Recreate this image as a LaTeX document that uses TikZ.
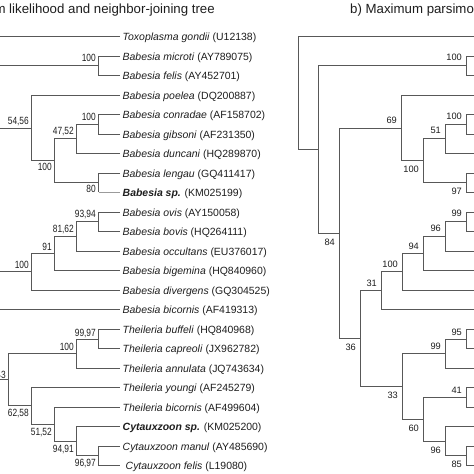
\documentclass[tikz,border=0pt]{standalone}
\usepackage{fontspec}
\setmainfont{Liberation Sans}
\newfontfamily\narrowfont[FakeStretch=0.8]{Liberation Sans}
\definecolor{linecol}{RGB}{88,88,88}
\definecolor{textcol}{RGB}{30,30,30}
\definecolor{lightline}{RGB}{155,155,155}
\begin{document}
\begin{tikzpicture}[x=1bp,y=-1bp,
  br/.style={draw=linecol,line width=1bp},
  leaflab/.style={anchor=base west,inner sep=0pt,font=\fontsize{10.5}{12}\selectfont,text=textcol,xshift=2.5bp,yshift=-3.7bp},
  bsla/.style={anchor=base east,inner sep=0pt,font=\narrowfont\fontsize{10.5}{12}\selectfont,text=textcol,xshift=-2.5bp,yshift=3.5bp},
  bslb/.style={anchor=base east,inner sep=0pt,font=\narrowfont\fontsize{10.5}{12}\selectfont,text=textcol,xshift=-2.5bp,yshift=-10.5bp},
  bsra/.style={anchor=base east,inner sep=0pt,font=\fontsize{9.3}{11}\selectfont,text=textcol,xshift=-4.5bp,yshift=4.5bp},
  bsrb/.style={anchor=base east,inner sep=0pt,font=\fontsize{9.3}{11}\selectfont,text=textcol,xshift=-4.5bp,yshift=-11.7bp},
  ttl/.style={anchor=base west,inner sep=0pt,font=\fontsize{13.3}{15}\selectfont,text=textcol}]
\useasboundingbox (0,0) rectangle (474,474);
\fill[white] (0,0) rectangle (474,474);
\clip (0,0) rectangle (474,474);

% titles
\node[ttl] (titleA) at (-67.5,14) {a) Maximum likelihood and neighbor-joining tree};
\node[ttl] (titleB) at (350,14) {b) Maximum parsimony tree};

% leaf y positions (pixel-centred)
\foreach \i/\y in {1/36.5,2/56.5,3/75.5,4/95.5,5/114.5,6/134.5,7/153.5,8/173.5,9/192.5,10/212.5,11/231.5,12/251.5,13/270.5,14/290.5,15/309.5,16/329.5,17/348.5,18/368.5,19/387.5,20/407.5,21/426.5,22/446.5,23/465.5}{
  \coordinate (l\i) at (120,\y);
  \coordinate (r\i) at (480,\y);
}

% left tree internal nodes
\coordinate (lroot) at (-12,200);
\coordinate (nMF) at (98.5,65.5);
\coordinate (nCG) at (98.5,124.5);
\coordinate (nCGD) at (76.5,138.5);
\coordinate (nLS) at (98.5,182.5);
\coordinate (nA2) at (54.5,160.5);
\coordinate (nA) at (31.5,128.5);
\coordinate (nOB) at (98.5,221.5);
\coordinate (nOBO) at (76.5,236.5);
\coordinate (nB2) at (54.5,253.5);
\coordinate (nB) at (31.5,271.5);
\coordinate (nBC) at (98.5,339.5);
\coordinate (nT) at (76.5,353.5);
\coordinate (nFM) at (98.5,455.5);
\coordinate (nCy) at (76.5,441.5);
\coordinate (nCyB) at (54.5,424.5);
\coordinate (nY) at (31.5,405.5);
\coordinate (nC) at (8.5,379.5);

\foreach \a/\b in {lroot/l1,lroot/nMF,lroot/nA,lroot/nB,lroot/l15,lroot/nC,
  nMF/l2,nMF/l3,nA/l4,nA/nA2,nA2/nCGD,nA2/nLS,nCGD/nCG,nCGD/l7,nCG/l5,nCG/l6,nLS/l8,
  nB/nB2,nB/l14,nB2/nOBO,nB2/l13,nOBO/nOB,nOBO/l12,nOB/l10,nOB/l11,
  nC/nT,nC/nY,nT/nBC,nT/l18,nBC/l16,nBC/l17,nY/l19,nY/nCyB,nCyB/l20,nCyB/nCy,
  nCy/l21,nCy/nFM,nFM/l22,nFM/l23}
  \draw[br] (\a) |- (\b);
\draw[br] (nLS) -- (nLS |- l9);
\draw[br,draw=lightline] (nLS |- l9) -- (l9);

% left bootstrap values
\node[bsla] (bMF) at (nMF) {100};
\node[bsla] (bCG) at (nCG) {100};
\node[bsla] (bCGD) at (nCGD) {47,52};
\node[bslb] (bLS) at (nLS) {80};
\node[bslb] (bA2) at (nA2) {100};
\node[bsla] (bA) at (nA) {54,56};
\node[bsla] (bOB) at (nOB) {93,94};
\node[bsla] (bOBO) at (nOBO) {81,62};
\node[bsla] (bB2) at (nB2) {91};
\node[bsla] (bB) at (nB) {100};
\node[bsla] (bBC) at (nBC) {99,97};
\node[bsla] (bT) at (nT) {100};
\node[bslb] (bFM) at (nFM) {96,97};
\node[bslb] (bCy) at (nCy) {94,91};
\node[bslb] (bCyB) at (nCyB) {51,52};
\node[bslb] (bY) at (nY) {62,58};
\node[bsla,xshift=0bp,yshift=-2bp] (bC) at (nC) {43};

% leaf labels
\node[leaflab] (t1) at (l1) {\textit{Toxoplasma gondii} (U12138)};
\node[leaflab] (t2) at (l2) {\textit{Babesia microti} (AY789075)};
\node[leaflab] (t3) at (l3) {\textit{Babesia felis} (AY452701)};
\node[leaflab] (t4) at (l4) {\textit{Babesia poelea} (DQ200887)};
\node[leaflab] (t5) at (l5) {\textit{Babesia conradae} (AF158702)};
\node[leaflab] (t6) at (l6) {\textit{Babesia gibsoni} (AF231350)};
\node[leaflab] (t7) at (l7) {\textit{Babesia duncani} (HQ289870)};
\node[leaflab] (t8) at (l8) {\textit{Babesia lengau} (GQ411417)};
\node[leaflab] (t9) at (l9) {\textbf{\textit{Babesia sp.}} (KM025199)};
\node[leaflab] (t10) at (l10) {\textit{Babesia ovis} (AY150058)};
\node[leaflab] (t11) at (l11) {\textit{Babesia bovis} (HQ264111)};
\node[leaflab] (t12) at (l12) {\textit{Babesia occultans} (EU376017)};
\node[leaflab] (t13) at (l13) {\textit{Babesia bigemina} (HQ840960)};
\node[leaflab] (t14) at (l14) {\textit{Babesia divergens} (GQ304525)};
\node[leaflab] (t15) at (l15) {\textit{Babesia bicornis} (AF419313)};
\node[leaflab] (t16) at (l16) {\textit{Theileria buffeli} (HQ840968)};
\node[leaflab] (t17) at (l17) {\textit{Theileria capreoli} (JX962782)};
\node[leaflab] (t18) at (l18) {\textit{Theileria annulata} (JQ743634)};
\node[leaflab] (t19) at (l19) {\textit{Theileria youngi} (AF245279)};
\node[leaflab] (t20) at (l20) {\textit{Theileria bicornis} (AF499604)};
\node[leaflab] (t21) at (l21) {\textbf{\textit{Cytauxzoon sp.}} (KM025200)};
\node[leaflab] (t22) at (l22) {\textit{Cytauxzoon manul} (AY485690)};
\node[leaflab,xshift=3bp] (t23) at (l23) {\textit{Cytauxzoon felis} (L19080)};

% right tree internal nodes
\coordinate (rRoot) at (298.5,93.5);
\coordinate (rM) at (318.5,149.5);
\coordinate (rMF) at (466.5,65.5);
\coordinate (rABT) at (339.5,233.5);
\coordinate (rA) at (401.5,128.5);
\coordinate (rA2) at (423.5,160.5);
\coordinate (rCGD) at (445.5,138.5);
\coordinate (rCG) at (466.5,124.5);
\coordinate (rLS) at (466.5,182.5);
\coordinate (rBT) at (360.5,338.5);
\coordinate (rB) at (381.5,290.5);
\coordinate (rB2) at (402.5,271.5);
\coordinate (rB3) at (423.5,253.5);
\coordinate (rOBO) at (445.5,236.5);
\coordinate (rOB) at (466.5,221.5);
\coordinate (rTC) at (402.5,386.5);
\coordinate (rT) at (445.5,353.5);
\coordinate (rBC) at (466.5,339.5);
\coordinate (rCyY) at (423.5,419.5);
\coordinate (rYB) at (466.5,397.5);
\coordinate (rCy) at (445.5,441.5);
\coordinate (rFM) at (466.5,455.5);

\foreach \a/\b in {rRoot/r1,rRoot/rM,rM/rMF,rM/rABT,rMF/r2,rMF/r3,rABT/rA,rABT/rBT,
  rA/r4,rA/rA2,rA2/rCGD,rA2/rLS,rCGD/rCG,rCGD/r7,rCG/r5,rCG/r6,rLS/r8,rLS/r9,
  rBT/rB,rBT/rTC,rB/rB2,rB/r15,rB2/rB3,rB2/r14,rB3/rOBO,rB3/r13,rOBO/rOB,rOBO/r12,
  rOB/r10,rOB/r11,rTC/rT,rTC/rCyY,rT/rBC,rT/r18,rBC/r16,rBC/r17,rCyY/rYB,rCyY/rCy,
  rYB/r19,rYB/r20,rCy/r21,rCy/rFM,rFM/r22,rFM/r23}
  \draw[br] (\a) |- (\b);

% right bootstrap values
\node[bsra] (sMF) at (rMF) {100};
\node[bsrb] (sABT) at (rABT) {84};
\node[bsra] (sA) at (rA) {69};
\node[bsrb] (sA2) at (rA2) {100};
\node[bsra] (sCGD) at (rCGD) {51};
\node[bsra] (sCG) at (rCG) {100};
\node[bsrb] (sLS) at (rLS) {97};
\node[bsrb] (sBT) at (rBT) {36};
\node[bsra] (sB) at (rB) {31};
\node[bsra] (sB2) at (rB2) {100};
\node[bsra] (sB3) at (rB3) {94};
\node[bsra] (sOBO) at (rOBO) {96};
\node[bsra] (sOB) at (rOB) {99};
\node[bsrb] (sTC) at (rTC) {33};
\node[bsra] (sT) at (rT) {99};
\node[bsra] (sBC) at (rBC) {95};
\node[bsrb] (sCyY) at (rCyY) {60};
\node[bsra] (sYB) at (rYB) {41};
\node[bsrb] (sCy) at (rCy) {96};
\node[bsrb] (sFM) at (rFM) {85};
\end{tikzpicture}
\end{document}
